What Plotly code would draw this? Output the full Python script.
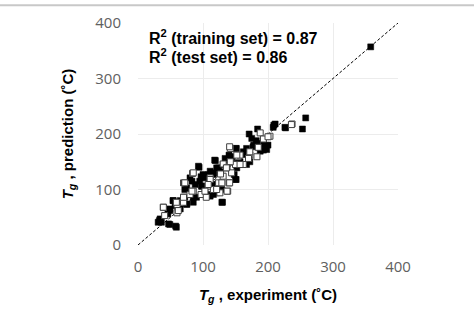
import plotly.graph_objects as go

# Training set: experimental vs predicted Tg (°C)
train_exp = [358, 258, 253, 227, 209, 208, 184, 171, 175, 182, 193, 198, 188, 178, 167, 165,
             151, 140, 147, 157, 152, 134, 119, 124, 127, 150, 148, 116, 109, 103, 97, 94,
             88, 80, 70, 75, 98, 113, 103, 121, 130, 111, 90, 72, 75, 85, 65, 54, 57, 65,
             49, 46, 33, 36, 49, 58, 59, 211, 226, 200, 193, 183, 177, 162, 172, 167, 154,
             151, 141, 144, 137, 131, 121, 118, 111, 100, 93, 116, 95, 98, 121, 151, 129,
             116, 129, 106, 72, 83, 85, 75, 54, 49, 34, 31, 47]
train_pred = [357, 229, 209, 211, 216, 212, 209, 200, 192, 188, 181, 172, 169, 180, 174, 163,
              174, 162, 159, 150, 139, 156, 152, 139, 132, 118, 127, 130, 127, 121, 123, 140,
              109, 121, 112, 103, 106, 109, 97, 94, 77, 88, 86, 86, 73, 77, 80, 80, 71, 65,
              62, 56, 44, 41, 37, 34, 32, 218, 212, 180, 171, 183, 177, 168, 150, 145, 150,
              174, 159, 150, 153, 145, 139, 153, 133, 127, 142, 127, 115, 106, 109, 118, 100,
              91, 77, 91, 100, 115, 86, 74, 80, 65, 47, 41, 38]

# Test set: experimental vs predicted Tg (°C)
test_exp = [237, 203, 188, 193, 185, 172, 170, 142, 154, 162, 150, 142, 131, 137, 144, 140,
            131, 111, 84, 72, 85, 108, 116, 124, 126, 138, 97, 105, 80, 70, 70, 60, 60, 39,
            41, 236, 200, 172, 183, 157, 141, 152, 157, 136, 127, 85, 111, 108, 129, 141,
            137, 121, 103, 83, 70, 59, 39, 62]
test_pred = [218, 196, 202, 191, 176, 162, 156, 174, 159, 145, 145, 150, 146, 139, 130, 112,
             124, 121, 129, 112, 97, 106, 100, 112, 94, 97, 91, 86, 91, 86, 77, 73, 58, 68,
             53, 217, 195, 168, 159, 162, 177, 162, 145, 139, 128, 130, 118, 109, 112, 112,
             97, 100, 97, 97, 86, 77, 68, 62]

ticks = [0, 100, 200, 300, 400]
line_ends = [0, 400]

fig = go.Figure()

# 1:1 reference line
fig.add_trace(go.Scatter(
    x=line_ends, y=line_ends, mode="lines",
    line=dict(color="black", width=1, dash="3px,2px"),
    hoverinfo="skip", showlegend=False))

fig.add_trace(go.Scatter(
    x=train_exp, y=train_pred, mode="markers", name="training set",
    marker=dict(symbol="square", size=6, color="black",
                line=dict(color="black", width=0.5)),
    showlegend=False))

fig.add_trace(go.Scatter(
    x=test_exp, y=test_pred, mode="markers", name="test set",
    marker=dict(symbol="square", size=6, color="white",
                line=dict(color="#404040", width=1)),
    showlegend=False))

axis_common = dict(
    range=[0, 400], tickvals=ticks, ticktext=[str(t) for t in ticks],
    showgrid=True, gridcolor="#ececec", gridwidth=1,
    zeroline=False, showline=False, ticks="",
    tickfont=dict(family="Open Sans", size=15, color="#606060"),
    fixedrange=True,
)

fig.update_layout(
    width=474, height=324,
    margin=dict(l=138, r=76, t=19, b=79),
    paper_bgcolor="white", plot_bgcolor="white",
    xaxis=dict(**axis_common,
               title=dict(text="<b><i>T</i><sub><i>g</i></sub> , experiment (˚C)</b>",
                          font=dict(family="Liberation Sans", size=15, color="black"),
                          standoff=14),
               ticklabelstandoff=11),
    yaxis=dict(**axis_common,
               title=dict(text="<b><i>T</i><sub><i>g</i></sub> , prediction (˚C)</b>",
                          font=dict(family="Liberation Sans", size=15, color="black"),
                          standoff=18),
               ticklabelstandoff=16),
    annotations=[
        dict(x=0.035, y=0.935, xref="paper", yref="paper", xanchor="left", yanchor="middle",
             text="<b>R<sup>2</sup> (training set) = 0.87</b>", showarrow=False,
             font=dict(family="Liberation Sans", size=16, color="black")),
        dict(x=0.035, y=0.85, xref="paper", yref="paper", xanchor="left", yanchor="middle",
             text="<b>R<sup>2</sup> (test set) = 0.86</b>", showarrow=False,
             font=dict(family="Liberation Sans", size=16, color="black")),
    ],
    shapes=[
        dict(type="rect", xref="paper", yref="paper",
             x0=-138 / 260, x1=336 / 260, y0=1 + 17 / 226, y1=1 + 19 / 226,
             fillcolor="#c8c8c8", line=dict(width=0), layer="above"),
    ],
)

fig.write_html("out.html")
